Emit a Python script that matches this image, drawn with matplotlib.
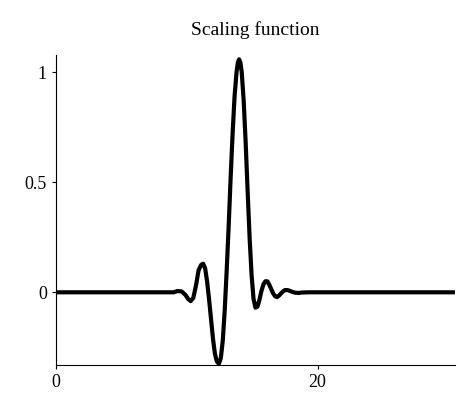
import matplotlib
matplotlib.use("Agg")
import matplotlib.pyplot as plt

x_vals = [0, 9.0, 9.3, 9.6, 9.9, 10.1, 10.3, 10.5, 10.7, 10.9, 11.1, 11.25, 11.4, 11.55, 11.7, 11.85,
          12.0, 12.15, 12.3, 12.45, 12.6, 12.75, 12.9, 13.05, 13.2, 13.35, 13.5, 13.65, 13.8, 13.9,
          14.0, 14.1, 14.2, 14.35, 14.5, 14.65, 14.8, 14.95, 15.1, 15.25, 15.4, 15.55, 15.7, 15.85,
          16.0, 16.15, 16.3, 16.45, 16.6, 16.75, 16.9, 17.05, 17.2, 17.35, 17.5, 17.7, 17.9, 18.1,
          18.3, 18.55, 18.8, 19.3, 30.5]
y_vals = [0, 0, 0.006, 0.004, -0.012, -0.03, -0.04, -0.025, 0.03, 0.1, 0.125, 0.13, 0.11, 0.05,
          -0.03, -0.12, -0.21, -0.28, -0.315, -0.325, -0.3, -0.22, -0.08, 0.1, 0.3, 0.52, 0.72, 0.89,
          1.0, 1.045, 1.06, 1.045, 1.0, 0.87, 0.68, 0.46, 0.25, 0.08, -0.03, -0.07, -0.065, -0.035,
          0.005, 0.035, 0.05, 0.05, 0.035, 0.015, -0.005, -0.018, -0.022, -0.015, -0.005, 0.004, 0.01,
          0.01, 0.006, 0.001, -0.002, -0.003, -0.001, 0, 0]
x_ticks = [0, 20]
y_ticks = [0, 0.5, 1]
y_ticklabels = ["0", "0.5", "1"]

plt.rcParams['font.family'] = ['Liberation Serif', 'DejaVu Serif']
fig = plt.figure(figsize=(4.74, 4.16), dpi=100)
ax = fig.add_axes([0.118, 0.123, 0.842, 0.745])
ax.plot(x_vals, y_vals, color='black', lw=3, solid_joinstyle='round', solid_capstyle='round')
ax.set_xlim(0, 30.5)
ax.set_ylim(-0.33, 1.08)
ax.set_xticks(x_ticks)
ax.set_yticks(y_ticks)
ax.set_yticklabels(y_ticklabels)
ax.tick_params(labelsize=13, length=3)
for s in ['top', 'right']:
    ax.spines[s].set_visible(False)
ax.set_title("Scaling function", fontsize=14, pad=14)
fig.savefig("out.png", dpi=100)
